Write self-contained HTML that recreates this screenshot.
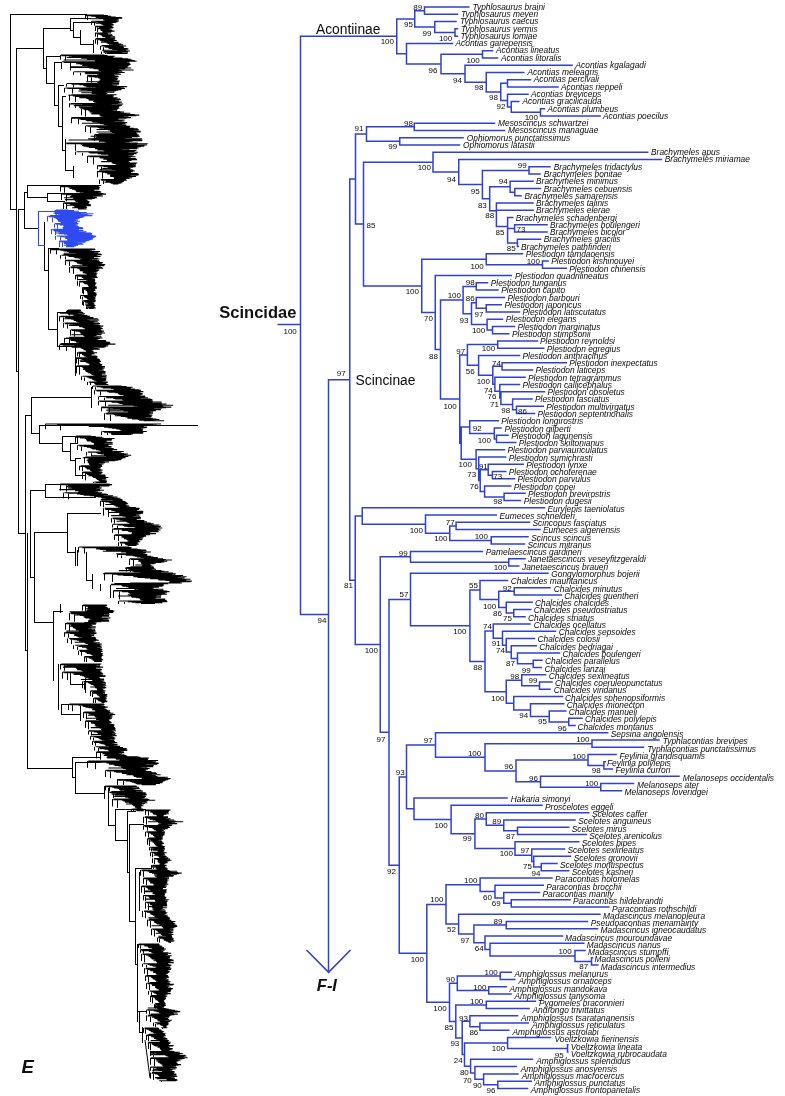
<!DOCTYPE html>
<html><head><meta charset="utf-8"><title>Scincidae phylogeny</title>
<style>
html,body{margin:0;padding:0;background:#fff}
svg{display:block}
text{font-family:"Liberation Sans",Arial,Helvetica,sans-serif;fill:#0a0a0a}
.sp text{font-size:8.4px;font-style:italic}
.su text{font-size:8.0px;text-anchor:end}
.big{font-size:13.8px}
.fam{font-size:16.5px;font-weight:bold;fill:#111}
.fi{font-size:16.5px;font-weight:bold;font-style:italic;fill:#111}
.e{font-size:18.6px;font-weight:bold;font-style:italic;fill:#111}
</style></head><body>
<svg width="785" height="1096" viewBox="0 0 785 1096">
<rect width="785" height="1096" fill="#fff"/>
<g fill="none" stroke="#000" stroke-width="1.05">
<path d="M85.8 15H103.8M85.7 15.6H107.9M91.2 16.2H111.1M95.3 16.9H115.7M96.1 17.5H121.6M98.5 18.1H122.3M90.3 18.7H118.3M103.1 19.3H117.2M103.4 20H118.8M104.9 20.6H116.7M91.9 21.2H118.6M96.3 21.8H117.6M98 22.4H116.2M95.7 23.1H111.6M100.3 23.7H112.6M101.4 24.3H113.5M102.7 24.9H113.8M104.3 25.5H111.1M95.5 26.2H112.6M95.3 26.8H112.4M98.7 27.4H113.5M99.4 28H113.2M97.6 28.6H110.7M100.3 29.3H109.3M100.4 29.9H112.1M100.9 30.5H112.3M102.6 31.1H114.5M102.3 31.7H111.6M102.8 32.4H107.4M95 33H111.1M96.6 33.6H107.9M98.4 34.2H107.5M100.3 34.8H112.2M101.6 35.5H112.6M102.1 36.1H110.3M102.8 36.7H115.1M105.5 37.3H110.4M105.2 37.9H115.2M96 38.6H114.6M96.4 39.2H115.1M98.4 39.8H113.3M100.2 40.4H116.7M101.1 41H113.3M104.3 41.7H114.4M100.8 42.3H118.2M106.5 42.9H118.8M107.7 43.5H118.6M108.9 44.1H121.3M112.5 44.8H123.2M102 45.4H119.6M100.7 46H126.2M104.4 46.6H122.9M105.2 47.2H123.8M108.2 47.9H124M109.2 48.5H127.5M112.3 49.1H128.4M113 49.7H124.3M102 50.3H126.2M117.4 51H129.9M103.4 51.6H127.6M103.5 52.2H128M107.5 52.8H121.8M106.5 53.4H127.6M60.8 55H104.5M61.5 55.6H107.5M68.9 56.2H114.7M71.8 56.9H113.4M66.7 57.5H108M81.2 58.1H122.5M86.9 58.7H128.1M87 59.3H130.7M63.6 60H132.2M94.9 60.6H134.8M95.7 61.2H136.6M62 61.8H129.4M63.7 62.4H126.9M77.8 63.1H129.7M75.9 63.7H119.6M80.2 64.3H130.9M82.9 64.9H129.6M82.2 65.5H128.6M87.6 66.2H127M70.6 66.8H128.2M69.9 67.4H126.7M89.3 68H131.3M93.5 68.6H125.3M97.6 69.3H119.2M99 69.9H133.6M98.6 70.5H121.6M100.9 71.1H118.4M74.1 71.7H122.4M84.8 72.4H124.6M86.5 73H119.4M85.2 73.6H116.8M97 74.2H121.1M98.6 74.8H114.1M87.2 75.5H114.8M87.2 76.1H117.9M89.4 76.7H118.9M94.7 77.3H115.4M98.1 77.9H117.3M99.8 78.6H117.8M99.6 79.2H117.6M101 79.8H117.1M100.1 80.4H115.3M98.7 81H120M86.2 81.7H118.9M97 82.3H112.7M97.7 82.9H119.3M67 83.5H119.1M71.5 84.1H111.8M79.5 84.8H118.9M83.4 85.4H113.2M84.3 86H116.9M86.4 86.6H127.1M95.6 87.2H123.8M65.2 87.9H120.6M67.5 88.5H124.9M79.1 89.1H121.6M80.8 89.7H121.2M87.2 90.3H118.3M78.5 91H115.6M91.9 91.6H107.6M92.6 92.2H114.3M81.3 92.8H105.8M91.6 93.4H107.3M96.5 94.1H106.1M71.4 94.7H116.6M68.3 95.3H112.5M72.9 95.9H114M75.3 96.5H112.8M79.3 97.2H112.9M79.2 97.8H117.6M86.2 98.4H116.3M87.8 99H120M88.8 99.6H120.8M88.9 100.3H115.2M94.1 100.9H119.1M93 101.5H119.1M94.3 102.1H121.8M96.5 102.7H119.7M70.8 103.4H117.9M69.4 104H123.2M82.4 104.6H111.7M74.6 105.2H122M73.8 105.8H120.6M92.3 106.5H119.3M78.9 107.1H118.8M95.7 107.7H117.8M80.3 108.3H119.3M82.7 108.9H117.8M84.4 109.6H117.1M88.5 110.2H117.1M88.4 110.8H112.7M90.1 111.4H120.4M89.7 112H124.1M92.6 112.7H121.5M90.8 113.3H130.4M91.7 113.9H126.3M99.5 114.5H134.6M99.5 115.1H139.3M100.6 115.8H136.2M102.9 116.4H123.6M99.9 117H128.5M71.5 117.6H131M71.6 118.2H126.5M79.3 118.9H118.5M80.8 119.5H116.4M85.5 120.1H124.6M86.9 120.7H122.3M91.6 121.3H114.8M92.7 122H124.3M97.5 122.6H127.2M81.9 123.2H125.5M100.1 123.8H124.7M103.7 124.4H121.9M106.6 125.1H126.3M86 125.7H125.5M87.5 126.3H130.2M91.2 126.9H130.1M97.6 127.5H129M99.4 128.2H133.6M104 128.8H137.7M96.5 129.4H138.6M108.2 130H138.7M110.1 130.6H133.8M110.3 131.3H140.7M96.5 131.9H140.7M111.8 132.5H134.3M114.9 133.1H136.3M98.4 133.7H137.4M95 134.4H137.2M95.2 135H138.9M95.6 135.6H138.1M90.6 136.2H139.7M96.8 136.8H137.8M96.2 137.5H132.1M93.7 138.1H125.4M88.1 138.7H142.1M91.5 139.3H140.5M68.6 139.9H142.4M99.5 140.6H142.1M100 141.2H132.6M104.5 141.8H129.5M106.3 142.4H125.4M66.3 143H137.7M66.2 143.7H147.7M80.7 144.3H137M82.8 144.9H146.9M82.1 145.5H139.3M83.5 146.1H144.3M86.5 146.8H140.9M88.9 147.4H137.1M94.8 148H138.6M95 148.6H137.1M97.9 149.2H129.4M97.3 149.9H122.4M103.4 150.5H136.4M104.5 151.1H134.1M76.5 151.7H135.1M88.4 152.3H138.1M89.7 153H128.4M97.8 153.6H136.6M101 154.2H130.4M108.3 154.8H134M108.3 155.4H128.2M87.6 156.1H132.7M89.4 156.7H135.5M99.1 157.3H130.9M100 157.9H128.5M103.7 158.5H135.8M103.3 159.2H137M106.6 159.8H137M107 160.4H131.5M110.5 161H129M101.1 161.6H128.2M112.1 162.3H129.9M111.7 162.9H137.3M113.3 163.5H135.9M115.5 164.1H136M116.5 164.7H134.1M98.4 165.4H135.5M97.2 166H136M103.4 166.6H135.4M107.2 167.2H133.1M108.2 167.8H129.4M102.4 168.5H130.6M112 169.1H129.9M99.7 169.7H132.4M115.6 170.3H133.3M98.9 170.9H134.7M97.9 171.6H132.7M102.9 172.2H129.4M105.2 172.8H131.1M107.5 173.4H137.6M107.2 174H138.6M111.2 174.7H138.9M109.9 175.3H137.7M110.1 175.9H130.6M110.4 176.5H135.9M113.4 177.1H128.3M114.4 177.8H132.2M113.9 178.4H129.5M115.2 179H125.1M100.7 179.6H126M101.4 180.2H126.9M105.9 180.9H123.9M106.8 181.5H123.7M104.6 182.1H121M110 182.7H122.5M111 183.3H120.6M112.7 184H118.4M61.5 186H97.3M60.8 186.6H98.9M68.3 187.2H99.7M70.8 187.9H99.6M69.4 188.5H99.1M72 189.1H93.9M74.2 189.7H99.2M75.4 190.3H94.3M75.8 191H94.4M76.3 191.6H100.6M79.8 192.2H101.2M83.4 192.8H98.5M61.3 193.4H103.5M62.1 194.1H106.1M66.4 194.7H102.1M71.2 195.3H99.6M71.5 195.9H103M69.9 196.5H93.2M73.4 197.2H96.4M64.1 197.8H97M73.1 198.4H94.8M73.5 199H92.2M64.9 199.6H85.7M74.5 200.3H87.3M75.1 200.9H88.1M75.8 201.5H89.4M78.1 202.1H89.2M64.1 202.7H89.2M64.4 203.4H88.6M69.7 204H88.4M70.4 204.6H90.7M66.9 205.2H90.6M72.9 205.8H90.9M74.2 206.5H85.6M74.5 207.1H86.5M72.1 207.7H87.1M77.8 208.3H84M78 208.9H86.4M50.5 249H95M51.1 249.6H95.3M60.2 250.2H90M63.6 250.9H92.1M67 251.5H100M68.8 252.1H94.1M73.9 252.7H98.5M63.7 253.3H98M76.2 254H100.8M63.5 254.6H101.7M61.5 255.2H97.8M67.5 255.8H96.6M68.7 256.4H100.5M73.6 257.1H94M74.8 257.7H93.2M78.5 258.3H97.6M81.5 258.9H99.4M80.3 259.5H91.8M66 260.2H96.7M66.1 260.8H99.1M74.3 261.4H99.7M75.8 262H94.1M77 262.6H102.7M77.3 263.3H100.4M79.5 263.9H102.2M82.3 264.5H105.2M82.7 265.1H104M72 265.7H104.5M87.3 266.4H98M70.3 267H100.8M70.8 267.6H102.2M77.3 268.2H103.2M78.9 268.8H98.6M79.6 269.5H96.3M80.3 270.1H99.3M79.8 270.7H97.9M82.7 271.3H97.6M83.4 271.9H96.4M82.8 272.6H94.1M84.7 273.2H97.5M86.4 273.8H95.9M86.9 274.4H96.7M76.2 275H96.3M75.4 275.7H95.6M78.4 276.3H97M81.6 276.9H95.7M81.7 277.5H97.6M83.6 278.1H91.7M83.2 278.8H94.8M77.3 279.4H95M86.1 280H95.3M87.6 280.6H95.1M79 281.2H95M79.6 281.9H95.1M83.2 282.5H93.6M83.8 283.1H96.4M84.8 283.7H95.9M86.7 284.3H95.4M87.9 285H95.3M88.1 285.6H95.1M88.8 286.2H94.6M88.7 286.8H96.7M83.2 287.4H96.1M82.5 288.1H97M84.1 288.7H94.6M84 289.3H95.2M85.8 289.9H94.2M85.6 290.5H95.5M86.9 291.2H94M86.9 291.8H93.2M87.4 292.4H95.2M88.1 293H96.3M87.5 293.6H95.6M87.8 294.3H96.8M87.7 294.9H96.4M80.6 295.5H96.2M83.7 296.1H93.8M84 296.7H96M84.8 297.4H94.8M86.8 298H95.2M86.7 298.6H95.4M87.7 299.2H95.3M88.6 299.8H94.5M83.3 300.5H95.7M83.4 301.1H95.1M85.2 301.7H95.6M86.9 302.3H94M85.1 302.9H92.3M88.1 303.6H94.2M88.8 304.2H94.5M85.2 304.8H94.5M86 305.4H95.5M90.7 306H94.5M86.2 306.7H94.7M86.8 307.3H94.6M88.4 307.9H95.8M89.1 308.5H93.6M68.1 310H80.6M67 310.6H81M66 311.2H79.4M66.2 311.9H82.1M66 312.5H83.3M59.8 313.1H78.1M67.4 313.7H85M70.3 314.3H84.2M73.3 315H82M74.2 315.6H87.3M60.4 316.2H90.1M60.1 316.8H89.3M65 317.4H93.4M67.6 318.1H93.2M64.4 318.7H97.8M71.2 319.3H87.4M73.5 319.9H99.2M73.9 320.5H89.4M75.9 321.2H97.7M77.3 321.8H94.7M79.2 322.4H92.7M64.5 323H98.9M64.9 323.6H100.1M73.2 324.3H93.9M69.4 324.9H98.8M68.9 325.5H100.5M78.9 326.1H103.3M79.7 326.7H100M82.6 327.4H100.7M83.6 328H102.1M85.1 328.6H102.8M88.7 329.2H95.7M70.7 329.8H100.9M71.7 330.5H101.4M75.6 331.1H104M79.4 331.7H101.3M80 332.3H102.4M80.4 332.9H105M80.9 333.6H98.4M81.5 334.2H101.8M71.4 334.8H101.1M83.3 335.4H96.6M84.2 336H93.8M84.6 336.7H101.4M69.2 337.3H97.6M66 337.9H102.5M65.1 338.5H99.8M69.8 339.1H96.3M70.8 339.8H98.3M70.6 340.4H105.9M74.2 341H97.9M76 341.6H106.3M76.3 342.2H109.8M78.6 342.9H110.2M61.2 343.5H109.8M60 344.1H115.4M59.9 344.7H108.5M62.9 345.3H106.4M74.2 346H108.1M75.1 346.6H105.7M71.7 347.2H104.6M80.4 347.8H93.8M81.6 348.4H98.2M83.4 349.1H99.8M83.5 349.7H93.5M85.3 350.3H92.4M86.1 350.9H92.4M86.3 351.5H93.6M78.3 352.2H93.4M78.4 352.8H97.2M78.5 353.4H94.1M82.7 354H94.6M82 354.6H91.7M83.4 355.3H91.6M84 355.9H96.5M85.8 356.5H97.4M87.3 357.1H97M76.4 357.7H97.4M76.7 358.4H97.1M81.2 359H98.9M82.3 359.6H99.8M79.7 360.2H98M83.6 360.8H100.4M80.2 361.5H101M85.6 362.1H99.4M87 362.7H99.5M88.2 363.3H100.5M89.5 363.9H99.9M89.5 364.6H102.2M89.2 365.2H101M76.8 365.8H101.7M76.3 366.4H105M81.9 367H102.4M82.7 367.7H104.8M83.8 368.3H104.3M83.2 368.9H102.4M82.9 369.5H100.1M85.3 370.1H103.7M85.1 370.8H99M86 371.4H105.6M86.9 372H103.5M88.2 372.6H105.4M90 373.2H101.9M91 373.9H105.7M91.7 374.5H101.5M94.5 375.1H101.9M92.8 375.7H106.8M82.4 376.3H105.7M86.5 377H106.4M88.5 377.6H101.4M89.4 378.2H106.4M92.2 378.8H105.8M92.3 379.4H106M93.7 380.1H106.3M95.5 380.7H105M97 381.3H102.8M88.7 381.9H107.9M89.7 382.5H107.7M94.1 383.2H106.5M94.5 383.8H106.2M95.4 384.4H108.3M92.9 386H121.7M96.9 386.6H126.5M100.7 387.2H132.6M102.7 387.9H130.8M110.8 388.5H128.8M113.7 389.1H134.8M116.3 389.7H139.3M95.4 390.3H140.9M96.6 391H140.8M107.1 391.6H143.4M108.9 392.2H139.6M115.2 392.8H140.4M117.9 393.4H142.7M118.7 394.1H142.5M120.1 394.7H140.8M123.3 395.3H139.5M123.8 395.9H145M99 396.5H145.3M107 397.2H144.4M105.8 397.8H147.9M113.3 398.4H140.9M115.3 399H150.6M122.3 399.6H152.3M123.4 400.3H152.7M98.7 400.9H151.3M100.1 401.5H152.8M111.5 402.1H161.7M117.4 402.7H152.1M119.4 403.4H161.7M122.4 404H166.5M122.8 404.6H161.7M108.1 405.2H173.2M133.5 405.8H162.6M137.2 406.5H163.4M101.4 407.1H171.3M102.2 407.7H166M113.2 408.3H161.8M107.6 408.9H154M120.3 409.6H160.8M106.2 410.2H152.6M123.4 410.8H155.9M128.2 411.4H150M107.6 412H153.2M127.9 412.7H150.7M105.4 413.3H153M106.3 413.9H149.6M113.7 414.5H146M117.1 415.1H152.4M114.9 415.8H151.2M120.7 416.4H151.6M125.5 417H150.7M127.7 417.6H145.5M127.4 418.2H152.8M131.9 418.9H156.3M137.7 419.5H159.4M139.2 420.1H154.7M143.8 420.7H164.2M45.4 424H161.1M57.2 424.6H153M81.7 425.2H156.6M93.2 425.9H143.7M88.6 426.5H140.1M104.1 427.1H147.1M108.4 427.7H146.3M112.1 428.3H141.2M116.3 429H143.2M119.5 429.6H142.6M120.4 430.2H142.5M121.9 430.8H142.8M102.3 431.4H146.8M103.8 432.1H143.3M109.1 432.7H137.9M111.3 433.3H143.2M111 433.9H132.8M111.8 434.5H131.1M76.2 436H91M76 436.6H95.8M75.7 437.2H102.1M80.1 437.9H103.7M84.6 438.5H114.4M86 439.1H112.1M86.6 439.7H111.9M86.6 440.3H111.5M86.9 441H106.7M91 441.6H106.4M91.8 442.2H111.8M93.5 442.8H112.8M94.1 443.4H104.4M93.9 444.1H112.6M96 444.7H107.7M78 445.3H108.7M79.5 445.9H108.1M83.7 446.5H111.6M86.9 447.2H105M89.6 447.8H111.4M91.4 448.4H113.7M92.4 449H110.6M96 449.6H117.2M98.6 450.3H112M100.5 450.9H112.8M106.1 451.5H123.7M87.8 452.1H121.3M96.1 452.7H119.1M97.5 453.4H124.2M100.6 454H127.9M104 454.6H126M107.1 455.2H131.2M91.5 455.8H124.1M106.2 456.5H128.4M85.2 457.1H125.2M82.7 457.7H125.5M88.9 458.3H122.8M87.6 458.9H121.9M88.7 459.6H121M86.6 460.2H118.1M87.7 460.8H115.2M88 461.4H103.4M87.5 462H109M88 462.7H105M89.2 463.3H98.8M89.5 463.9H103.6M90 464.5H100.1M90.4 465.1H101.6M80.5 465.8H102M80.2 466.4H102.2M84.7 467H98.4M85.3 467.6H100.7M86.7 468.2H98.3M86.7 468.9H100.4M89.5 469.5H100.6M89.9 470.1H102.5M91.3 470.7H100.4M91.7 471.3H99M83.5 472H102.2M82.9 472.6H102.5M85.4 473.2H101.4M86.1 473.8H101.4M87.2 474.4H99.5M89.3 475.1H105.3M88.3 475.7H105.3M91.9 476.3H105.9M92.7 476.9H104.7M93.3 477.5H108.4M95.7 478.2H106.1M95.8 478.8H105.6M97.1 479.4H101.9M98.3 480H106.6M98.8 480.6H104.9M100.2 481.3H107.1M94.3 481.9H106.5M95.7 482.5H106.5M60.3 484H109.5M60.2 484.6H112.1M68.1 485.2H110.4M67.3 485.9H109.1M66.6 486.5H100M71.2 487.1H99.1M67.6 487.7H101.6M68.4 488.3H101.2M72.1 489H96.5M59.2 489.6H100.1M76.8 490.2H103.9M75 490.8H100M78.8 491.4H95.4M78.1 492.1H98.2M64.4 492.7H102.1M67.6 493.3H101M76.9 493.9H106.4M80.3 494.5H108M83.6 495.2H103.7M89.7 495.8H113.1M94.1 496.4H111.5M97.6 497H117.5M101.1 497.6H114.3M102.1 498.3H120.5M105.7 498.9H118.5M100.9 499.5H122.4M113.1 500.1H122M101.2 500.7H123.2M101.4 501.4H125.4M105.5 502H121.6M109.1 502.6H126.7M110.3 503.2H127.3M111.5 503.8H128.2M105.3 504.5H125.7M113.7 505.1H126.4M116 505.7H128.9M115.6 506.3H127.1M117.8 506.9H130.3M120.1 507.6H135.9M104.7 508.2H139.7M105 508.8H139M105.3 509.4H138.9M112.4 510H137.2M111.1 510.7H136.8M114.5 511.3H143.3M115.9 511.9H143.2M108.3 512.5H140.5M119.1 513.1H143.1M120.1 513.8H140.8M119.1 514.4H136.2M122 515H139.3M111.1 515.6H136.3M122.5 516.2H140.2M125.6 516.9H133.2M126.4 517.5H140.9M112.5 518.1H138.8M112.8 518.7H140.9M116.1 519.3H136.8M119.5 520H136.6M122.6 520.6H144.3M116.5 521.2H142.3M125.9 521.8H147M127.4 522.4H144.5M129.3 523.1H150.7M131.9 523.7H153.7M113 524.3H152.1M118 524.9H159.3M122.8 525.5H154.4M124.1 526.2H161M127.6 526.8H160M135.4 527.4H156.7M134.5 528H162.3M113.7 528.6H158.3M113.1 529.3H159M121.7 529.9H160.6M122.2 530.5H149.4M127.8 531.1H157.8M129.4 531.7H158.8M132 532.4H150.3M132.2 533H148.2M131.5 533.6H156.1M133.6 534.2H147.1M114.9 534.8H150M115.3 535.5H146.1M122.3 536.1H146.1M121.4 536.7H144M121.7 537.3H141.5M123.7 537.9H143.1M123.9 538.6H139.9M126.1 539.2H142.5M127.1 539.8H141.8M128.6 540.4H139.2M127.5 541H139M128.8 541.7H140.3M119.7 542.3H137.7M119.9 542.9H137.6M124.5 543.5H136.4M125.2 544.1H138.7M126.1 544.8H136.4M127.6 545.4H136.6M79 547H129.3M82.2 547.6H131.5M95.9 548.2H130.6M96.3 548.9H137.6M100.2 549.5H140.7M106.1 550.1H145.8M111.4 550.7H146.6M102.8 551.3H142.8M121 552H150.9M126 552.6H146M129 553.2H144.9M116.2 553.8H143M117.3 554.4H147.4M125.7 555.1H147.1M132.5 555.7H144.4M134.7 556.3H151.1M136.9 556.9H153.4M140.6 557.5H157.8M144 558.2H157.6M130 558.8H163.1M130.9 559.4H165.6M138.2 560H171.9M139.3 560.6H164M138.3 561.3H167.2M140.7 561.9H164.2M140.6 562.5H161.3M141 563.1H155.8M141.4 563.7H154.4M142.8 564.4H150.2M135.4 565H150.5M142.6 565.6H151.5M141.9 566.2H153.5M130.6 566.8H150.9M127.1 567.5H153.9M125.1 568.1H154M130 568.7H154.7M128.2 569.3H156M131 569.9H151.4M118.8 570.6H161.5M132.3 571.2H164.2M133.7 571.8H168.6M140.2 572.4H161M104.5 573H173.1M102.9 573.7H175.9M112.8 574.3H175.1M117.6 574.9H172M123.4 575.5H183.1M133.2 576.1H181M133.6 576.8H186.6M137.5 577.4H177.6M144.7 578H184.6M150 578.6H181.8M157.8 579.2H190.4M158.5 579.9H186.3M165.4 580.5H184M169.6 581.1H191.8M171.2 581.7H190.5M168.9 582.3H180.2M130.2 583H181.8M114.4 583.6H168.2M111 584.2H163.8M110.8 584.8H163.7M121.5 585.4H163.7M122.4 586.1H162.6M125.9 586.7H157.1M128.2 587.3H159M130.2 587.9H153.7M116 588.5H152.6M134.2 589.2H163.4M137.7 589.8H157.8M113.7 590.4H163.6M114.1 591H167.2M121.9 591.6H169.6M128 592.3H167M128.8 592.9H164.8M130 593.5H160.1M130.8 594.1H166.9M127.8 594.7H161.8M129.3 595.4H156.8M118.1 596H161.1M131 596.6H155.7M131.9 597.2H161M136.3 597.8H156.2M139.4 598.5H154.8M140.1 599.1H165.1M140.4 599.7H162.8M142.8 600.3H166.3M119.2 600.9H167M127.7 601.6H167.3M131.7 602.2H157.5M135.3 602.8H162.4M141 603.4H155M82.9 605H106.8M82.1 605.6H107.1M85.9 606.2H104.7M88 606.9H106.1M87.7 607.5H107.3M87.7 608.1H107.9M85.8 608.7H110.1M88.8 609.3H110.2M87.2 610H110.1M86.5 610.6H113.3M88.8 611.2H114.3M69.6 611.8H113M71 612.4H113.2M70.4 613.1H109M71.3 613.7H108.1M77 614.3H109.7M74.2 614.9H104.1M79.9 615.5H109.1M84.5 616.2H109.2M83.4 616.8H101.8M84.5 617.4H101.3M85.5 618H110.5M89.5 618.6H107.5M89.3 619.3H108.6M91.4 619.9H103.3M88.4 620.5H109.1M88.1 621.1H109.1M88.3 621.7H101.2M84.5 622.4H94.4M66.6 623H96.6M64.9 623.6H96M69.8 624.2H95.7M71.3 624.8H91.3M71.2 625.5H92.4M70 626.1H90.2M72.7 626.7H95.7M72.7 627.3H91.5M73.4 627.9H95.6M75.2 628.6H88.1M75.8 629.2H91.6M76 629.8H95M79.1 630.4H95.4M66.4 631H93.1M78.9 631.7H95.6M65.5 632.3H94.2M64.5 632.9H96.7M69.8 633.5H96.2M73.8 634.1H94.4M74.9 634.8H90.2M74.2 635.4H94.1M76.2 636H91.7M77.5 636.6H91.2M79 637.2H95.1M82.2 637.9H96.1M69.2 638.5H95.8M70 639.1H95.8M73.5 639.7H97.2M76.9 640.3H98.8M78.9 641H95.8M80.6 641.6H93.7M74.7 642.2H93.4M84.4 642.8H99.6M85.5 643.4H96.5M87.9 644.1H101.6M89.3 644.7H99.9M75.2 645.3H99.8M80 645.9H101.6M78.4 646.5H101.4M81.9 647.2H97.1M85.7 647.8H101.9M86.7 648.4H100.1M86.8 649H101.3M88.4 649.6H102.4M79 650.3H100.5M80.1 650.9H101.8M80.1 651.5H102.6M85.1 652.1H101.2M86.5 652.7H101.1M86.8 653.4H102.8M90 654H101.6M91.2 654.6H102.4M92.4 655.2H103.2M92.9 655.8H101.9M84.7 656.5H101.8M85.2 657.1H101.2M88.6 657.7H99.6M89.6 658.3H101.9M91.3 658.9H100.9M92.7 659.6H102.8M92.5 660.2H102.2M94.5 660.8H100.9M94.2 661.4H102M61.2 664H101.4M60.9 664.6H100.1M66.8 665.2H95.8M64.8 665.9H100M72.1 666.5H94.3M62.9 667.1H103.1M75.6 667.7H94.9M76.1 668.3H95.9M76.9 669H100.8M77.3 669.6H101.9M80.7 670.2H100.5M82.3 670.8H100.3M82.9 671.4H100.2M62.9 672.1H101.6M64.2 672.7H99.7M72.6 673.3H102.8M74.8 673.9H103.2M73.7 674.5H100.8M80 675.2H102.7M82.1 675.8H105.6M83.9 676.4H105.3M84.6 677H99.5M85.7 677.6H98.8M89.1 678.3H100.2M88.3 678.9H104.1M80.9 679.5H103.4M92.6 680.1H104.2M92.1 680.7H101.6M83.5 681.4H103.2M83.7 682H104.6M88 682.6H105.5M89 683.2H105.9M90.1 683.8H102.4M91.1 684.5H105.6M93.2 685.1H103.6M94.1 685.7H106.2M95 686.3H102.8M90.2 686.9H105.1M95 687.6H106.3M96.6 688.2H104.8M96.8 688.8H102.1M97.1 689.4H102.9M97.2 690H103.7M90.8 690.7H105.6M91.1 691.3H104.9M93.1 691.9H102.7M94 692.5H104.6M92 693.1H105.1M96 693.8H102.9M97.1 694.4H107.3M97.1 695H106.2M98.4 695.6H106.7M99.2 696.2H107.4M99.8 696.9H104.9M100.5 697.5H105.7M93.9 698.1H106.6M94.6 698.7H106.6M96.4 699.3H105.4M97.7 700H106.1M98.2 700.6H106.3M99.5 701.2H107.5M101.3 701.8H106.8M101.6 702.4H104.6M69.4 704H104M70.4 704.6H104.5M78.4 705.2H103.6M82.6 705.9H100.9M83.4 706.5H104.8M85.5 707.1H107.7M88.7 707.7H104.6M91.3 708.3H105.5M93.1 709H104M92.2 709.6H106.7M94.7 710.2H107.6M94.9 710.8H110.1M95.6 711.4H108.6M84.2 712.1H110.1M83.5 712.7H110.7M87.6 713.3H113.4M89 713.9H108.9M91.2 714.5H115.2M88 715.2H111.2M94.4 715.8H112.6M94.7 716.4H110.8M95.6 717H112.4M96.6 717.6H110M87 718.3H112M96.4 718.9H110.7M96 719.5H107.3M99.1 720.1H108.9M85.9 720.7H109.5M86.3 721.4H110.6M90.9 722H110.1M90.8 722.6H111.7M91.4 723.2H110.5M94.1 723.8H108.8M95.1 724.5H113.5M95.8 725.1H114.4M94.7 725.7H111.4M95.9 726.3H113.9M98 726.9H114M90.8 727.6H114.8M99.7 728.2H115.1M101.9 728.8H115.6M101 729.4H115.1M101.8 730H111.5M88.9 730.7H116M89.3 731.3H113.7M93.7 731.9H113.5M96.9 732.5H114.8M98.3 733.1H112.4M97.6 733.8H116.2M90.9 734.4H115M100.9 735H113.2M101.4 735.6H116.6M90.6 736.2H113.3M94.2 736.9H111.6M96.5 737.5H114.6M98.6 738.1H114.2M99.4 738.7H115.3M100.3 739.3H114.4M101.8 740H109.8M104.4 740.6H114M92.9 741.2H115M95.3 741.8H114.9M94.1 742.4H117.1M99.4 743.1H112.2M101.5 743.7H114.6M103.6 744.3H117.7M105.1 744.9H117.2M105.7 745.5H113.9M109.1 746.2H119.9M95.6 746.8H120M98.6 747.4H123M102.5 748H123.1M99.5 748.6H126.7M104.5 749.3H125.8M107.7 749.9H127.6M108.8 750.5H126.8M109.2 751.1H121.3M96.9 751.7H123.9M97.2 752.4H124.1M102.4 753H121.8M102.5 753.6H118.7M104.4 754.2H124.4M105.5 754.8H121.3M103.8 755.5H125.9M107.3 756.1H127.2M109 756.7H138.2M106.5 757.3H140.4M107.2 757.9H148.9M115.5 758.6H147.6M116.1 759.2H147.8M120 759.8H148.1M119.3 760.4H158.1M88.2 761H152.6M88.1 761.7H155.9M100.1 762.3H155.5M106.4 762.9H158.3M110.7 763.5H158.8M108.9 764.1H157.3M113.6 764.8H146M114.7 765.4H153.8M118.5 766H142.7M121 766.6H153.2M121.5 767.2H147.3M108.4 767.9H141.1M122.8 768.5H149.6M125.7 769.1H147.9M128.3 769.7H143.3M105.9 770.3H145.6M106.9 771H146.5M114.1 771.6H151.2M116.2 772.2H152M121.8 772.8H156M121.9 773.4H156.9M127.6 774.1H152.2M126.3 774.7H160.7M132.9 775.3H155.7M133.7 775.9H155.6M133.8 776.5H157.5M136.2 777.2H167.9M141.6 777.8H165M141.8 778.4H170.7M145.5 779H169.7M117.2 779.6H167.9M118.4 780.3H166.2M125.7 780.9H164.6M129.7 781.5H158.9M131.8 782.1H162.8M134 782.7H162.3M135.6 783.4H159.9M136.7 784H155M141.7 784.6H155.9M105.2 786H136.5M106.3 786.6H136.8M112.2 787.2H139M114.1 787.9H132.5M117.3 788.5H139.6M118.9 789.1H133.3M119.4 789.7H135.7M120.1 790.3H141.1M124.1 791H142.9M111.4 791.6H136.2M109.2 792.2H142.6M110 792.8H145.7M116.2 793.4H145.4M111.7 794.1H146.5M119.5 794.7H146.8M114.7 795.3H145.7M124.6 795.9H142.8M114.2 796.5H145.9M125.2 797.2H144.9M128.1 797.8H144.5M129.7 798.4H142.2M113.5 799H147.8M113.3 799.6H149.4M121.8 800.3H155.2M123.3 800.9H147.7M124.9 801.5H146.5M125 802.1H142M129 802.7H147.3M130.4 803.4H145.1M126 804H143.8M132 804.6H141.5M133.2 805.2H142.1M133.1 805.8H143.4M134.9 806.5H140.8M134.9 807.1H141.2M135.6 807.7H141.5M137.3 808.3H140.8M132.2 808.9H143.1M133.1 809.6H142.9M135.5 810.2H143M137 810.8H144.3M146.1 810H170.6M146 810.6H169.2M151.1 811.2H168.9M150 811.9H168.6M151.7 812.5H168.3M152.7 813.1H166.1M152.9 813.7H168.8M153.6 814.3H166.4M155.8 815H164.1M157.1 815.6H163.2M157 816.2H162.1M144.8 816.8H168M144.6 817.4H168.1M147.4 818.1H166.3M150.1 818.7H170.5M149.6 819.3H168.7M152.6 819.9H174.3M155.3 820.5H169.2M156.4 821.2H176.5M148.1 821.8H183.2M158.2 822.4H171.6M159.1 823H175M161 823.6H177.2M157.8 824.3H168.1M159.2 824.9H172.2M143.9 825.5H171.7M144.4 826.1H169.4M145.1 826.7H168.7M149 827.4H169.8M152.1 828H167.1M152.8 828.6H167.7M154.5 829.2H165M153.8 829.8H162.6M155.7 830.5H163.7M156.8 831.1H161.9M146.3 831.7H164.8M146.5 832.3H164.8M148.5 832.9H164.8M150.5 833.6H164.4M151.2 834.2H164.1M153 834.8H164.6M153 835.4H163.4M154.3 836H163.1M154.3 836.7H161.3M155.5 837.3H162.9M149.1 837.9H161.5M147.9 838.5H162.5M148.3 839.1H162.6M150.8 839.8H161.1M151.2 840.4H158.4M148.7 841H161.8M152.5 841.6H162.2M152.5 842.2H162.5M154.1 842.9H163.6M153.9 843.5H164M154.6 844.1H161.8M155 844.7H161.1M155.7 845.3H162.9M156.6 846H161.6M157.5 846.6H164.9M149.8 847.2H164.3M151.9 847.8H164.1M153.7 848.4H164.9M150.5 849.1H162.5M155.4 849.7H164.8M152.5 850.3H164.1M157.5 850.9H164.2M157.8 851.5H162.4M151.3 852.2H164.1M151.6 852.8H166.7M153.8 853.4H164.5M154.4 854H162.9M155.6 854.6H164.8M153.8 855.3H163.2M157.5 855.9H165.7M158.7 856.5H166.6M159 857.1H164.9M160.6 857.7H168.2M153.9 858.4H168.2M154.1 859H170M156.9 859.6H166.4M157.9 860.2H171.4M158.1 860.8H169.7M157.6 861.5H166.7M158 862.1H167.7M158.8 862.7H167.7M159.8 863.3H165.7M159.6 863.9H164.7M159.5 864.6H164M152.7 865.2H166.5M151.7 865.8H166.7M154.7 866.4H165M151.9 867H165.1M155.8 867.7H166.4M155.6 868.3H166.9M156.7 868.9H168M141.3 870H167M141.6 870.6H169.5M147.6 871.2H177.2M149.7 871.9H171.4M149.2 872.5H177.9M152.1 873.1H181.7M154.2 873.7H179.1M156.5 874.3H176.9M154.1 875H171M156.9 875.6H173.8M154.9 876.2H173.1M156.6 876.8H168.9M156.7 877.4H165.3M143.6 878.1H169M144.2 878.7H166.7M147.9 879.3H167.3M147.3 879.9H168.7M149.3 880.5H167.2M149 881.2H167.5M150.6 881.8H167.2M150.1 882.4H167.2M150.2 883H167.3M152.8 883.6H165.8M153.6 884.3H168.3M153.8 884.9H165.5M154.5 885.5H165.6M141.7 886.1H166.8M142 886.7H164.6M146.3 887.4H166M147.5 888H162.4M147.6 888.6H163M148.1 889.2H161.8M149.8 889.8H166.8M151 890.5H166.1M144.1 891.1H166.4M145.1 891.7H166M153.3 892.3H166.6M152.5 892.9H165.5M152.5 893.6H164.7M154.6 894.2H163.7M155.2 894.8H165.1M143.4 895.4H164M144.9 896H164.7M148.4 896.7H165M149 897.3H166.4M149.8 897.9H166.2M151.7 898.5H163M145.3 899.1H165.5M154.6 899.8H168.7M155 900.4H164.8M155 901H167.5M156 901.6H167.3M146 902.2H166.7M147.1 902.9H166.6M150 903.5H162.5M150.5 904.1H167M149.9 904.7H166.3M152.2 905.3H167.2M152.1 906H167.1M147.7 906.6H163M153 907.2H162.9M152.2 907.8H166.8M153.4 908.4H162.7M152.5 909.1H161.6M153.3 909.7H164.8M154.2 910.3H160.3M144.1 910.9H165.9M144.1 911.5H165.4M146.8 912.2H165.6M149.4 912.8H167.4M150.3 913.4H166.3M150.3 914H165.4M151.7 914.6H164.3M153.2 915.3H167.7M154.8 915.9H165.9M154.4 916.5H167.6M155.2 917.1H168.4M148.3 917.7H169.8M158 918.4H169.8M148.8 919H169.8M149.2 919.6H169.3M148.3 920.2H171.4M152.7 920.8H171.4M154.4 921.5H175.4M154.1 922.1H173.2M155.3 922.7H169.3M156 923.3H174.6M156.9 923.9H175.4M160 924.6H173.7M159.4 925.2H176.7M151.6 925.8H176.9M161.8 926.4H177.3M162.6 927H175.5M162.8 927.7H174.2M163.7 928.3H170.3M151.9 928.9H173.2M153 929.5H172.9M155.8 930.1H173.5M157.5 930.8H170.3M157.6 931.4H171.3M158.1 932H173.4M159.2 932.6H172.7M155.8 933.2H171.7M160.5 933.9H168.7M161 934.5H173.5M162.2 935.1H171.7M163.8 935.7H168.3M158.3 936.3H172M165.9 937H172.2M158.3 937.6H172.4M159.4 938.2H172.7M162.3 938.8H173.8M163.6 939.4H173.3M163.8 940.1H171.4M165.7 940.7H174.5M166.3 941.3H173.7M168 941.9H170.9M169.2 942.5H171M138.7 944H159.1M139.1 944.6H159.4M144.3 945.2H159.7M144.3 945.9H161.7M147.5 946.5H158.2M148.1 947.1H162.5M148.5 947.7H164M152.3 948.3H164M151.6 949H165.9M140.8 949.6H163.6M144.4 950.2H164.6M141.5 950.8H161.5M148.9 951.4H163.3M151.1 952.1H162.6M152.2 952.7H168.2M153.4 953.3H171.2M142.3 953.9H167.1M142.8 954.5H168M146.3 955.2H166.2M149.2 955.8H171.6M148.5 956.4H169.9M150.2 957H166.9M150.3 957.6H169.9M151.1 958.3H169.8M151.9 958.9H168.3M154.3 959.5H171.7M155.6 960.1H173.5M153.5 960.7H173.7M156.2 961.4H169.6M156.6 962H170.8M157.1 962.6H173.7M157.5 963.2H168.2M143.3 963.8H168.3M147.6 964.5H169.3M149.6 965.1H171.4M152.2 965.7H168.6M153.3 966.3H170.3M155.5 966.9H166.1M156.6 967.6H170.2M145.7 968.2H171.4M145.4 968.8H168.8M147.6 969.4H171M149.6 970H167.8M150.4 970.7H168.3M153.5 971.3H169.7M153.1 971.9H169.5M153.1 972.5H168.7M156 973.1H168M155.5 973.8H166.4M156.6 974.4H166.5M157.5 975H166.5M146.2 975.6H168.1M145.3 976.2H167.9M150.8 976.9H169.2M151.5 977.5H168.5M152.5 978.1H166.7M152.5 978.7H165.3M153.6 979.3H168.6M155 980H165.4M156 980.6H168.5M156.1 981.2H164.1M157.8 981.8H170.5M149.7 982.4H167.4M147.2 983.1H169.3M148 983.7H170.1M151.7 984.3H174.1M151.9 984.9H172.8M152.1 985.5H166.8M155.3 986.2H169.4M155.1 986.8H167.6M155.1 987.4H168M156.3 988H171M156.6 988.6H172.9M158.6 989.3H171.6M158.8 989.9H171.1M160.1 990.5H170.9M149.8 991.1H170.7M151.8 991.7H170.2M153.3 992.4H167M153.9 993H168.1M155.5 993.6H170.8M156.8 994.2H167.7M157.2 994.8H165.5M150.8 995.5H165.4M150.9 996.1H167.2M151 996.7H165.7M153.3 997.3H165.9M154.6 997.9H164.4M154.8 998.6H166M155.4 999.2H165.1M155.6 999.8H164.8M157.3 1000.4H163.7M158.1 1001H163.9M158.1 1001.7H164.1M159.4 1002.3H165.1M159.3 1002.9H163.7M155.2 1003.5H165.5M154.9 1004.1H165.6M156.2 1004.8H164.7M157.2 1005.4H165.8M155.3 1006H164.6M154.8 1006.6H164.1M154.9 1007.2H162.1M147.8 1007.9H163.9M157.1 1008.5H166.1M158.4 1009.1H168.7M147.2 1009.7H171.8M147.5 1010.3H175.1M153.6 1011H177.7M156.5 1011.6H180.2M158.7 1012.2H177.2M159 1012.8H173.3M160.4 1013.4H173.8M150.6 1014.1H177.8M159.8 1014.7H174.5M148.2 1015.3H171.4M147.6 1015.9H169.8M152.8 1016.5H168.8M151.9 1017.2H169.2M154.5 1017.8H165.5M154.6 1018.4H168.2M156.7 1019H167.1M157.3 1019.6H169M157.4 1020.3H171.9M158.4 1020.9H165.4M160 1021.5H170.2M160.5 1022.1H167.8M154.7 1022.7H168.6M157.7 1023.4H167.8M156.6 1024H168.8M160 1024.6H168.1M161 1025.2H166.8M162.6 1025.8H166.7M163.1 1026.5H166.5M163.7 1027.1H166.1M161.6 1027.7H167.4M144.4 1028H158.3M144.7 1028.6H159M146.7 1029.2H159.3M148.6 1029.9H161.2M149.3 1030.5H159.9M150.9 1031.1H162.5M150.7 1031.7H164.1M152.8 1032.3H162.7M153.5 1033H162.9M156 1033.6H165.5M149 1034.2H161.7M147.4 1034.8H165M146.8 1035.4H165.7M151.3 1036.1H163.2M151.2 1036.7H164.3M153.4 1037.3H165.5M154 1037.9H163.3M154.1 1038.5H167.2M155.6 1039.2H164.7M157.6 1039.8H167.5M150.7 1040.4H168.9M159.5 1041H165.7M159.9 1041.6H168.2M148.4 1042.3H170.7M149.1 1042.9H169.1M152.7 1043.5H170.3M151.8 1044.1H169.1M153.1 1044.7H168.8M153.8 1045.4H173.7M155.4 1046H173.3M158.2 1046.6H168.2M157.5 1047.2H169.6M160.1 1047.8H169.7M159.8 1048.5H172.7M160.2 1049.1H170.6M161.1 1049.7H172.4M161 1050.3H169.9M162.1 1050.9H169.2M150.1 1051.6H174.4M150.7 1052.2H179.9M151.1 1052.8H178M156.5 1053.4H182.7M150.9 1054H179.1M151.2 1054.7H179.9M165.2 1055.3H185.4M166.4 1055.9H186.4M168.2 1056.5H184.5M168.5 1057.1H183.4M151.1 1057.8H187.6M150.9 1058.4H184.6M157.1 1059H182.4M155.6 1059.6H177.5M158.6 1060.2H180.4M156.5 1060.9H178.5M158.8 1061.5H172.2M157.9 1062.1H176.6M160 1062.7H173.3M159.6 1063.3H177.7M160.7 1064H177.2M162.6 1064.6H181M161.8 1065.2H178.6M163.1 1065.8H176M163.1 1066.4H172.4M150.4 1067.1H175.8M153.6 1067.7H177M156.9 1068.3H170.4M155.7 1068.9H175.6M152.9 1069.5H172.5M158.4 1070.2H172.3M152.2 1070.8H169.9M162.3 1071.4H174.1M162 1072H175M152 1072.6H173.8M151.5 1073.3H174M155 1073.9H176.1M157.5 1074.5H176.4M158.1 1075.1H172.8M158.8 1075.7H176.6M159.3 1076.4H177.2M161.2 1077H174.5M154.9 1077.6H171.5M162.9 1078.2H174.5M156.7 1078.8H174.9M166.6 1079.5H176.8M166.8 1080.1H177.5M159.5 1080.7H176.2"/>
<path stroke-width="1" d="M85.5 15V19.2M87.5 16.2V20.1M91.5 21.2V24.9M94.5 22.4V25.6M95.5 26.2V31M97.5 27.4V32M95.5 33V36.7M97.5 34.2V37.5M95.5 38.6V43.7M97.5 39.8V44.7M100.5 46V49.8M103.5 47.2V50.5M101.5 51.6V54M105.5 52.8V54M60.5 55V59.7M65.5 56.2V60.6M61.5 61.8V69M70.5 63V70.5M73.5 71.7V74.9M80.5 72.9V75.5M87.5 76.1V81.6M91.5 77.3V82.7M66.5 83.5V86.7M73.5 84.7V87.4M64.5 87.9V92.6M72.5 89.1V93.6M69.5 94.7V100.7M75.5 95.9V102M69.5 103.4V107.3M75.5 104.6V108.1M81.5 108.9V115.3M85.5 110.1V116.6M71.5 117.6V123.2M78.5 118.8V124.3M85.5 125.7V132M90.5 126.9V133.2M94.5 134.4V140.9M99.5 135.6V142.2M65.5 143V149.5M75.5 144.2V150.8M75.5 151.7V154.9M82.5 152.9V155.6M87.5 156.1V163M93.5 157.3V164.4M97.5 165.4V169.3M101.5 166.6V170.1M97.5 170.9V177.3M102.5 172.1V178.6M99.5 179.6V184M103.5 180.8V184M60.5 186V191.6M64.5 187.2V192.7M61.5 193.4V200M66.5 194.6V201.3M63.5 202.7V209M66.5 203.9V209M50.5 249V253.5M56.5 250.2V254.4M60.5 255.2V258.7M65.5 256.4V259.4M65.5 260.2V265.1M69.5 261.4V266M69.5 267V272.7M73.5 268.2V273.9M75.5 275V279.5M77.5 276.2V280.4M77.5 281.2V285.7M79.5 282.4V286.6M82.5 287.4V293.2M83.5 288.6V294.4M80.5 295.5V298.9M82.5 296.7V299.6M82.5 300.5V304.9M83.5 301.7V305.8M86.5 306.7V309M87.5 307.9V309M68.5 310V314.5M69.5 311.2V315.4M59.5 316.2V321.3M63.5 317.4V322.3M63.5 323V327.7M67.5 324.2V328.6M70.5 329.8V335.6M74.5 331V336.7M64.5 337.9V342.8M69.5 339.1V343.8M59.5 344.7V349.9M66.5 345.9V350.9M77.5 352.2V356.3M79.5 353.4V357.1M76.5 357.7V363.4M78.5 358.9V364.6M76.5 365.8V373.3M79.5 367V374.7M81.5 376.3V380.1M84.5 377.5V380.9M87.5 381.9V385M90.5 383.1V385M92.5 386V389M95.5 387.2V389.6M94.5 390.3V394.5M100.5 391.5V395.4M98.5 396.5V399.6M104.5 397.7V400.2M98.5 400.9V405.4M105.5 402.1V406.3M101.5 407.1V411.3M109.5 408.3V412.2M104.5 413.3V419.9M110.5 414.5V421M45.5 424V429.2M60.5 425.2V430.3M101.5 431.4V435M107.5 432.6V435M75.5 436V442.7M77.5 437.2V444M77.5 445.3V450.1M81.5 446.5V451.1M86.5 452.1V455.6M91.5 453.3V456.3M84.5 457.1V463.4M89.5 458.3V464.7M79.5 465.8V470.4M82.5 467V471.3M82.5 472V479M85.5 473.2V480.4M93.5 481.9V483M95.5 483.1V483M60.5 484V490.4M66.5 485.2V491.7M63.5 492.7V498.3M68.5 493.9V499.4M100.5 500.7V506.2M103.5 501.9V507.3M103.5 508.2V515.6M108.5 509.4V517.1M111.5 518.1V522.6M114.5 519.3V523.5M112.5 524.3V527.5M117.5 525.5V528.2M112.5 528.6V532.8M118.5 529.8V533.7M114.5 534.8V540M118.5 536V541M118.5 542.3V546M121.5 543.5V546M78.5 547V552.5M84.5 548.2V553.6M117.5 554.4V557.5M121.5 555.6V558.1M129.5 558.8V564.9M133.5 560V566.1M126.5 567.5V571.5M130.5 568.7V572.3M104.5 573V580.4M112.5 574.2V581.9M129.5 583V588.4M135.5 584.2V589.5M113.5 590.4V597.9M119.5 591.6V599.4M118.5 600.9V604M124.5 602.1V604M82.5 605V610.6M85.5 606.2V611.7M69.5 613.1V620.3M74.5 614.3V621.8M65.5 623V629.7M69.5 624.2V631M64.5 632.3V636.8M68.5 633.5V637.7M67.5 638.5V643.1M71.5 639.7V644.1M73.5 645.3V649.1M77.5 646.5V649.9M78.5 650.9V655M81.5 652.1V655.8M84.5 656.5V661.8M86.5 657.7V662M60.5 664V669.6M64.5 665.2V670.7M62.5 672.1V678.7M67.5 673.3V680.1M82.5 681.4V688.2M84.5 682.6V689.6M90.5 690.7V696.1M92.5 691.9V697.1M93.5 698.1V703M95.5 699.3V703M68.5 704V710M72.5 705.2V711.2M83.5 712.1V718.1M86.5 713.3V719.3M85.5 720.7V727.9M88.5 721.9V729.4M88.5 730.7V734.6M91.5 731.9V735.4M90.5 736.2V739.7M93.5 737.4V740.4M92.5 741.2V745M95.5 742.4V745.7M94.5 746.8V750.5M98.5 748V751.2M96.5 751.7V758.4M100.5 752.9V759.7M87.5 761V767.8M95.5 762.2V769.2M105.5 770.3V777M110.5 771.5V778.3M117.5 779.6V785M123.5 780.8V785M105.5 786V790.4M109.5 787.2V791.3M108.5 792.2V797.1M113.5 793.4V798M112.5 799V806.4M117.5 800.2V807.9M131.5 808.9V811M133.5 810.1V811M145.5 810V814.7M148.5 811.2V815.6M143.5 816.8V823.2M146.5 818V824.5M143.5 825.5V829.7M147.5 826.7V830.5M145.5 831.7V836.6M148.5 832.9V837.6M147.5 838.5V844.8M149.5 839.7V846.1M149.5 847.2V850.5M151.5 848.4V851.2M150.5 852.2V856.4M152.5 853.4V857.3M152.5 858.4V863.2M154.5 859.6V864.1M151.5 865.2V869M153.5 866.4V869M140.5 870V875.7M143.5 871.2V876.9M143.5 878.1V883.8M146.5 879.3V885M141.5 886.1V892.7M144.5 887.3V894M143.5 895.4V900.3M145.5 896.6V901.3M145.5 902.2V908.7M148.5 903.4V910M142.5 910.9V917.1M145.5 912.1V918.3M147.5 919.6V926.3M150.5 920.8V927.6M151.5 928.9V935.3M154.5 930.1V936.6M157.5 937.6V941.8M159.5 938.8V942.6M138.5 944V947.9M140.5 945.2V948.7M140.5 949.6V952.7M143.5 950.8V953.4M141.5 953.9V961M144.5 955.1V962.4M142.5 963.8V966.8M146.5 965V967.5M144.5 968.2V973.7M147.5 969.4V974.8M145.5 975.6V980.9M148.5 976.8V982M146.5 983.1V989M149.5 984.3V990.1M148.5 991.1V994.7M151.5 992.3V995.5M150.5 996.1V1002.1M152.5 997.3V1003.3M154.5 1004.1V1008M155.5 1005.3V1008.7M146.5 1009.7V1013.7M149.5 1010.9V1014.5M146.5 1015.3V1020.8M150.5 1016.5V1021.9M153.5 1022.7V1026.1M155.5 1023.9V1026.8M161.5 1027.7V1028M162.5 1028.9V1028M143.5 1028V1032.8M145.5 1029.2V1033.7M146.5 1034.8V1040M148.5 1036V1041.1M148.5 1042.3V1049M150.5 1043.5V1050.3M150.5 1051.6V1055.9M153.5 1052.8V1056.8M150.5 1057.8V1064.7M154.5 1059V1066.1M150.5 1067.1V1070.9M153.5 1068.3V1071.6M150.5 1072.6V1078.6M153.5 1073.8V1079.8M159.5 1080.7V1081M161.5 1081.9V1081"/>
<path stroke-width="1" d="M10.5 14V210M10 14.5H87M10 209.5H17M16.5 48V372M16 48.5H44M43.5 28V69M43 28.5H71M43 68.5H47M70.5 18V31M70 18.5H91M70 30.5H74M73.5 22V38M73 22.5H96M73 37.5H81M80.5 30V45M80 44.5H94M93.5 40V53M46.5 56V84M46 56.5H61M46 83.5H55M54.5 62V106M54 62.5H61M54 105.5H59M58.5 85V127M58 85.5H64M58 126.5H63M62.5 96V151M62 96.5H66M62 150.5H66M65.5 139V171M65 170.5H74M73.5 166V178M16 371.5H19M18.5 209V534M18 209.5H25M24.5 192V229M24 192.5H28M24 228.5H39M27.5 185V198M27 185.5H101M27 197.5H48M47.5 193V202M47 193.5H63M47 201.5H65M44.5 222V271M44 270.5H49M48.5 248V330M48 248.5H59M48 329.5H58M57.5 312V347M57 312.5H69M57 346.5H76M75.5 346V376M18 533.5H26M25.5 415V651M25 415.5H32M31.5 397V434M31 397.5H92M91.5 387V408M31 433.5H40M39.5 425V444M39 425.5H198M39 443.5H63M62.5 436V452M62 436.5H77M62 451.5H71M70.5 443V461M70 443.5H77M70 460.5H76M75.5 458V476M75 458.5H81M75 475.5H86M30.5 490V578M30 490.5H46M45.5 484V498M45 484.5H81M45 497.5H96M30 577.5H35M34.5 532V623M34 532.5H68M34 622.5H54M67.5 513V553M67 513.5H101M67 552.5H76M75.5 547V566M77.5 550V566M86.5 552V581M86 580.5H93M92.5 574V589M100.5 584V591M110.5 585V598M53.5 611V681M60.5 604V613M53 611.5H63M58.5 664V710M70.5 672V685M70 684.5H86M85.5 678V693M61.5 704V715M61 714.5H81M80.5 706V721M61 704.5H81M25 650.5H28M27.5 533V769M27 768.5H73M72.5 757V778M72 757.5H101M72 777.5H76M75.5 762V794M75 762.5H101M75 793.5H105M104.5 786V799M108.5 788V826M108 825.5H116M115.5 809V841M115 809.5H146M115 840.5H128M127.5 811V873M127 811.5H136M127 872.5H130M129.5 824V922M129 824.5H144M129 921.5H136M135.5 868V965M135 868.5H151M135 964.5H138M137.5 944V1022M137 944.5H151M139.5 872V911M139.5 1011V1033M137 1011.5H147M139 1032.5H143M142.5 1027V1043M145 1040L150 1078"/>
</g>
<g fill="none" stroke="#2f4af0" stroke-width="1.05">
<path d="M55.9 210H68.5M54.6 210.6H74M56.7 211.2H79.1M55.6 211.9H74.6M58 212.5H86.7M53.6 213.1H81.3M57 213.7H93.3M58 214.3H88.4M59.4 215H87.1M50 215.6H92.4M47.6 216.2H84.6M48.7 216.8H84.2M53.8 217.4H82.6M55.3 218.1H79.9M56.2 218.7H78.6M57 219.3H75.4M57.5 219.9H77.8M58 220.5H76.2M58.1 221.2H80M59.5 221.8H74.3M60.8 222.4H77.3M61.7 223H73.9M55 223.6H78.5M56 224.3H77.6M59.9 224.9H75.6M63.5 225.5H76.6M63.4 226.1H78M63.5 226.7H79.1M62.6 227.4H82.7M62.7 228H77.2M63.2 228.6H83.3M53.4 229.2H78.9M50.8 229.8H78.8M53.5 230.5H83.3M54.5 231.1H78.8M57.9 231.7H86.5M60.1 232.3H85.1M55.1 232.9H90.8M58.6 233.6H92.1M64.1 234.2H90.8M67.1 234.8H91.7M68.2 235.4H93.1M56.6 236H95.7M59.8 236.7H96.2M64.6 237.3H94.4M65.6 237.9H93.4M65.3 238.5H92M67.2 239.1H92.8M67.2 239.8H90.8M67.3 240.4H89.1M59.1 241H87.3M60.3 241.6H85.1M63.5 242.2H85.5M64 242.9H77.6M64.2 243.5H82.1M65.7 244.1H83.5M66.3 244.7H78.3M63.8 245.3H78M66.7 246H76M66 246.6H74.1"/>
<path stroke-width="1" d="M55.5 210V214.6M56.5 211.2V215.5M47.5 216.2V221.4M52.5 217.4V222.4M54.5 223.6V227.7M57.5 224.8V228.5M51.5 229.2V234.1M55.5 230.4V235.1M55.5 236V239.7M60.5 237.2V240.4M59.5 241V247M62.5 242.2V247"/>
<path stroke-width="1.1" d="M70 211.5H38.5V245.5H45"/>
</g>
<g fill="none" stroke="#2e41d4" stroke-width="1.5" stroke-linecap="square">
<path d="M300.5 36.28L396.75 36.28M396.75 18.89L396.75 53.68M396.75 18.89L414.75 18.89M414.75 10.73L414.75 27.06M414.75 10.73L424.5 10.73M424.5 7.1L424.5 14.36M424.5 7.1L468.75 7.1M424.5 14.36L457.5 14.36M414.75 27.06L434.75 27.06M434.75 21.61L434.75 32.5M434.75 21.61L456 21.61M434.75 32.5L455 32.5M455 28.87L455 36.13M455 28.87L457.5 28.87M455 36.13L457.5 36.13M396.75 53.68L406.5 53.68M406.5 43.38L406.5 63.97M406.5 43.38L452.5 43.38M406.5 63.97L441 63.97M441 54.27L441 73.66M441 54.27L482.5 54.27M482.5 50.64L482.5 57.9M482.5 50.64L492.5 50.64M482.5 57.9L497.5 57.9M441 73.66L465 73.66M465 65.16L465 82.16M465 65.16L572 65.16M465 82.16L486.25 82.16M486.25 72.41L486.25 91.92M486.25 72.41L523.75 72.41M486.25 91.92L500.75 91.92M500.75 83.3L500.75 100.53M500.75 83.3L507.5 83.3M507.5 79.67L507.5 86.93M507.5 79.67L530.5 79.67M507.5 86.93L558 86.93M500.75 100.53L507.5 100.53M507.5 94.18L507.5 106.88M507.5 94.18L528 94.18M507.5 106.88L511.25 106.88M511.25 101.44L511.25 112.33M511.25 101.44L518.75 101.44M511.25 112.33L540.5 112.33M540.5 108.7L540.5 115.95M540.5 108.7L544.5 108.7M540.5 115.95L600 115.95M328.5 379.67L349.75 379.67M349.75 179.07L349.75 580.27M349.75 179.07L355.5 179.07M355.5 134.1L355.5 224.04M355.5 134.1L366.5 134.1M366.5 126.84L366.5 141.35M366.5 126.84L414.25 126.84M414.25 123.21L414.25 130.47M414.25 123.21L494.5 123.21M414.25 130.47L504.5 130.47M366.5 141.35L399.75 141.35M399.75 137.73L399.75 144.98M399.75 137.73L463 137.73M399.75 144.98L459.5 144.98M355.5 224.04L363.5 224.04M363.5 162.13L363.5 285.94M363.5 162.13L433 162.13M433 152.24L433 172.03M433 152.24L647.75 152.24M433 172.03L458.75 172.03M458.75 159.5L458.75 184.56M458.75 159.5L661.5 159.5M458.75 184.56L482.4 184.56M482.4 170.38L482.4 198.73M482.4 170.38L529 170.38M529 166.75L529 174.01M529 166.75L550 166.75M529 174.01L540 174.01M482.4 198.73L489.7 198.73M489.7 186.71L489.7 210.75M489.7 186.71L510.1 186.71M510.1 181.27L510.1 192.15M510.1 181.27L533 181.27M510.1 192.15L514.8 192.15M514.8 188.52L514.8 195.78M514.8 188.52L540.5 188.52M514.8 195.78L521 195.78M489.7 210.75L496.4 210.75M496.4 203.04L496.4 218.46M496.4 203.04L533 203.04M496.4 210.3L496.4 226.62M496.4 210.3L533 210.3M496.4 226.62L507.6 226.62M507.6 217.55L507.6 235.7M507.6 217.55L512.7 217.55M507.6 228.44L507.6 242.95M507.6 228.44L514.6 228.44M514.6 224.81L514.6 232.07M514.6 224.81L547 224.81M514.6 232.07L547 232.07M507.6 242.95L517.4 242.95M517.4 239.32L517.4 246.58M517.4 239.32L540.5 239.32M517.4 246.58L518.4 246.58M363.5 285.94L421.75 285.94M421.75 259.28L421.75 312.6M421.75 259.28L486.25 259.28M486.25 253.84L486.25 264.72M486.25 253.84L522.5 253.84M486.25 264.72L542.5 264.72M542.5 261.09L542.5 268.35M542.5 261.09L548 261.09M542.5 268.35L566.25 268.35M421.75 312.6L435.25 312.6M435.25 275.61L435.25 349.59M435.25 275.61L511.25 275.61M435.25 349.59L440.5 349.59M440.5 300.1L440.5 399.08M440.5 300.1L463.1 300.1M463.1 286.49L463.1 313.71M463.1 286.49L476.25 286.49M476.25 282.87L476.25 290.12M476.25 282.87L487.5 282.87M476.25 290.12L498 290.12M463.1 313.71L471.5 313.71M471.5 302.82L471.5 324.59M471.5 302.82L476.25 302.82M476.25 297.38L476.25 308.27M476.25 297.38L504.5 297.38M476.25 308.27L486.25 308.27M486.25 304.64L486.25 311.89M486.25 304.64L501.25 304.64M486.25 311.89L519.5 311.89M471.5 324.59L487.1 324.59M487.1 319.15L487.1 330.04M487.1 319.15L502.5 319.15M487.1 330.04L492.5 330.04M492.5 326.41L492.5 333.67M492.5 326.41L514.5 326.41M492.5 333.67L508.75 333.67M440.5 399.08L459.75 399.08M459.75 354.95L459.75 443.2M459.75 354.95L467.4 354.95M467.4 344.55L467.4 365.36M467.4 344.55L497.7 344.55M497.7 340.92L497.7 348.18M497.7 340.92L537.5 340.92M497.7 348.18L543.75 348.18M467.4 365.36L478.6 365.36M478.6 355.44L478.6 375.28M478.6 355.44L519.5 355.44M478.6 375.28L492.8 375.28M492.8 366.32L492.8 384.24M492.8 366.32L502.1 366.32M502.1 362.69L502.1 369.95M502.1 362.69L566.25 362.69M502.1 369.95L532.5 369.95M492.8 384.24L494.9 384.24M494.9 377.21L494.9 391.27M494.9 377.21L525 377.21M494.9 391.27L499.8 391.27M499.8 384.46L499.8 398.07M499.8 384.46L519.5 384.46M499.8 398.07L500.9 398.07M500.9 391.72L500.9 404.42M500.9 391.72L544.5 391.72M500.9 404.42L512.6 404.42M512.6 398.98L512.6 409.86M512.6 398.98L532 398.98M512.6 409.86L516.5 409.86M516.5 406.24L516.5 413.49M516.5 406.24L543.25 406.24M516.5 413.49L534.5 413.49M459.75 443.2L461.2 443.2M461.2 427.1L461.2 459.3M461.2 427.1L469.7 427.1M469.7 420.75L469.7 433.45M469.7 420.75L498.25 420.75M469.7 433.45L494.3 433.45M494.3 428.01L494.3 438.89M494.3 428.01L501 428.01M494.3 438.89L496.5 438.89M496.5 435.26L496.5 442.52M496.5 435.26L508 435.26M496.5 442.52L515.75 442.52M461.2 459.3L476.1 459.3M476.1 449.78L476.1 468.83M476.1 449.78L504.5 449.78M476.1 468.83L478.7 468.83M478.7 457.03L478.7 480.62M478.7 457.03L505.5 457.03M478.7 480.62L480.2 480.62M480.2 469.73L480.2 491.5M480.2 469.73L488.2 469.73M488.2 464.29L488.2 475.18M488.2 464.29L523.25 464.29M488.2 475.18L492.4 475.18M492.4 471.55L492.4 478.81M492.4 471.55L505.75 471.55M492.4 478.81L514.5 478.81M480.2 491.5L484.6 491.5M484.6 486.06L484.6 496.95M484.6 486.06L510.75 486.06M484.6 496.95L504.1 496.95M504.1 493.32L504.1 500.58M504.1 493.32L525 493.32M504.1 500.58L520.5 500.58M349.75 580.27L355.25 580.27M355.25 516L355.25 644.55M355.25 516L362.25 516M362.25 507.83L362.25 524.16M362.25 507.83L544.5 507.83M362.25 524.16L425.5 524.16M425.5 515.09L425.5 533.23M425.5 515.09L496.25 515.09M425.5 533.23L449.75 533.23M449.75 525.98L449.75 540.49M449.75 525.98L456.1 525.98M456.1 522.35L456.1 529.6M456.1 522.35L529.5 522.35M456.1 529.6L540 529.6M449.75 540.49L491.25 540.49M491.25 536.86L491.25 544.12M491.25 536.86L528 536.86M491.25 544.12L524.5 544.12M355.25 644.55L380.25 644.55M380.25 556.82L380.25 732.28M380.25 556.82L410.5 556.82M410.5 551.38L410.5 562.26M410.5 551.38L482.4 551.38M410.5 562.26L508.75 562.26M508.75 558.63L508.75 565.89M508.75 558.63L525 558.63M508.75 565.89L518.75 565.89M380.25 732.28L389 732.28M389 599.41L389 865.15M389 599.41L410.5 599.41M410.5 573.15L410.5 625.67M410.5 573.15L548 573.15M410.5 625.67L469.9 625.67M469.9 589.93L469.9 661.42M469.9 589.93L480 589.93M480 580.4L480 599.45M480 580.4L507.5 580.4M480 599.45L498.75 599.45M498.75 591.29L498.75 607.62M498.75 591.29L514.25 591.29M514.25 587.66L514.25 594.92M514.25 587.66L550 587.66M514.25 594.92L561.25 594.92M498.75 607.62L506.25 607.62M506.25 602.17L506.25 613.06M506.25 602.17L532 602.17M506.25 613.06L513.75 613.06M513.75 609.43L513.75 616.69M513.75 609.43L530.75 609.43M513.75 616.69L525 616.69M469.9 661.42L485 661.42M485 631.09L485 691.75M485 631.09L493.25 631.09M493.25 623.95L493.25 638.23M493.25 623.95L530 623.95M493.25 638.23L502.5 638.23M502.5 631.2L502.5 645.26M502.5 631.2L555.5 631.2M502.5 645.26L506.25 645.26M506.25 638.46L506.25 652.07M506.25 638.46L534.5 638.46M506.25 652.07L511.25 652.07M511.25 645.72L511.25 658.42M511.25 645.72L536.25 645.72M511.25 658.42L517.5 658.42M517.5 652.97L517.5 663.86M517.5 652.97L559.5 652.97M517.5 663.86L533.25 663.86M533.25 660.23L533.25 667.49M533.25 660.23L542 660.23M533.25 667.49L541.25 667.49M485 691.75L506.25 691.75M506.25 680.19L506.25 703.32M506.25 680.19L521.75 680.19M521.75 674.74L521.75 685.63M521.75 674.74L545.5 674.74M521.75 685.63L539.5 685.63M539.5 682L539.5 689.26M539.5 682L552 682M539.5 689.26L550 689.26M506.25 703.32L513.75 703.32M513.75 696.51L513.75 710.12M513.75 696.51L562.5 696.51M513.75 710.12L530.5 710.12M530.5 703.77L530.5 716.47M530.5 703.77L563.75 703.77M530.5 716.47L549.25 716.47M549.25 711.03L549.25 721.91M549.25 711.03L565.75 711.03M549.25 721.91L568.75 721.91M568.75 718.29L568.75 725.54M568.75 718.29L582 718.29M568.75 725.54L575 725.54M389 865.15L399.25 865.15M399.25 776.94L399.25 953.36M399.25 776.94L406.5 776.94M406.5 745.05L406.5 808.83M406.5 745.05L435.5 745.05M435.5 732.8L435.5 757.29M435.5 732.8L607.6 732.8M435.5 757.29L485 757.29M485 743.69L485 770.9M485 743.69L592 743.69M592 740.06L592 747.31M592 740.06L659 740.06M592 747.31L643.5 747.31M485 770.9L516 770.9M516 760.01L516 781.78M516 760.01L588 760.01M588 754.57L588 765.46M588 754.57L616.1 754.57M588 765.46L603.9 765.46M603.9 761.83L603.9 769.09M603.9 761.83L605.25 761.83M603.9 769.09L612.25 769.09M516 781.78L540.5 781.78M540.5 776.34L540.5 787.23M540.5 776.34L679 776.34M540.5 787.23L600.75 787.23M600.75 783.6L600.75 790.86M600.75 783.6L633.5 783.6M600.75 790.86L621.5 790.86M406.5 808.83L414 808.83M414 798.11L414 819.54M414 798.11L507 798.11M414 819.54L451.1 819.54M451.1 805.37L451.1 833.72M451.1 805.37L542 805.37M451.1 833.72L474.9 833.72M474.9 818.98L474.9 848.46M474.9 818.98L486.25 818.98M486.25 812.63L486.25 825.33M486.25 812.63L588.75 812.63M486.25 825.33L503.75 825.33M503.75 819.88L503.75 830.77M503.75 819.88L575 819.88M503.75 830.77L517.5 830.77M517.5 827.14L517.5 834.4M517.5 827.14L568.75 827.14M517.5 834.4L586.25 834.4M474.9 848.46L515 848.46M515 841.65L515 855.26M515 841.65L578.75 841.65M515 855.26L531.75 855.26M531.75 848.91L531.75 861.61M531.75 848.91L564.5 848.91M531.75 861.61L533.75 861.61M533.75 856.17L533.75 867.05M533.75 856.17L570.5 856.17M533.75 867.05L541.25 867.05M541.25 863.43L541.25 870.68M541.25 863.43L557 863.43M541.25 870.68L568.75 870.68M399.25 953.36L426.8 953.36M426.8 904.42L426.8 1002.3M426.8 904.42L446 904.42M446 884.74L446 924.09M446 884.74L480.1 884.74M480.1 877.94L480.1 891.55M480.1 877.94L552 877.94M480.1 891.55L495 891.55M495 885.2L495 897.9M495 885.2L543.25 885.2M495 897.9L503.75 897.9M503.75 892.45L503.75 903.34M503.75 892.45L539.5 892.45M503.75 903.34L511.25 903.34M511.25 899.71L511.25 906.97M511.25 899.71L570 899.71M511.25 906.97L608.9 906.97M446 924.09L458.6 924.09M458.6 914.23L458.6 933.95M458.6 914.23L599.9 914.23M458.6 933.95L473.9 933.95M473.9 925.11L473.9 942.8M473.9 925.11L506.25 925.11M506.25 921.48L506.25 928.74M506.25 921.48L587.5 921.48M506.25 928.74L597.5 928.74M473.9 942.8L485 942.8M485 936L485 949.6M485 936L562.5 936M485 949.6L490 949.6M490 943.25L490 955.95M490 943.25L583.75 943.25M490 955.95L575 955.95M575 950.51L575 961.4M575 950.51L585 950.51M575 961.4L591.5 961.4M591.5 957.77L591.5 965.02M591.5 957.77L592.5 957.77M591.5 965.02L597.75 965.02M426.8 1002.3L449.5 1002.3M449.5 983.17L449.5 1021.44M449.5 983.17L457.3 983.17M457.3 975.91L457.3 990.42M457.3 975.91L500.3 975.91M500.3 972.28L500.3 979.54M500.3 972.28L511.4 972.28M500.3 979.54L514.8 979.54M457.3 990.42L488.7 990.42M488.7 986.79L488.7 994.05M488.7 986.79L506.4 986.79M488.7 994.05L511 994.05M449.5 1021.44L455.8 1021.44M455.8 1004.94L455.8 1037.93M455.8 1004.94L486.3 1004.94M486.3 1001.31L486.3 1008.57M486.3 1001.31L535.4 1001.31M486.3 1008.57L529.1 1008.57M455.8 1037.93L462.2 1037.93M462.2 1021.27L462.2 1054.6M462.2 1021.27L469.9 1021.27M469.9 1015.82L469.9 1026.71M469.9 1015.82L517.5 1015.82M469.9 1026.71L479.9 1026.71M479.9 1023.08L479.9 1030.34M479.9 1023.08L528.25 1023.08M479.9 1030.34L508.8 1030.34M462.2 1054.6L464.5 1054.6M464.5 1043.04L464.5 1066.17M464.5 1043.04L507.6 1043.04M507.6 1037.59L507.6 1048.48M507.6 1037.59L550.5 1037.59M507.6 1048.48L567.5 1048.48M567.5 1044.85L567.5 1052.11M567.5 1044.85L567.8 1044.85M567.5 1052.11L567.8 1052.11M464.5 1066.17L470.6 1066.17M470.6 1059.36L470.6 1072.97M470.6 1059.36L532.5 1059.36M470.6 1072.97L474.9 1072.97M474.9 1066.62L474.9 1079.32M474.9 1066.62L516.25 1066.62M474.9 1079.32L483.6 1079.32M483.6 1073.88L483.6 1084.76M483.6 1073.88L518 1073.88M483.6 1084.76L497.8 1084.76M497.8 1081.14L497.8 1088.39M497.8 1081.14L531.25 1081.14M497.8 1088.39L527.5 1088.39M300.5 36.28L300.5 614.5M300.5 614.5L328.5 614.5M328.5 379.67L328.5 972M278.2 324.6L300.5 324.6"/>
<path stroke-linecap="butt" stroke-width="1.6" d="M306.5 950L328.6 972.3L350.5 950"/>
</g>
<g class="sp">
<text x="472.5" y="9.7">Typhlosaurus braini</text>
<text x="461" y="16.97">Typhlosaurus meyeri</text>
<text x="460" y="24.25">Typhlosaurus caecus</text>
<text x="461" y="31.52">Typhlosaurus vermis</text>
<text x="460.5" y="38.79">Typhlosaurus lomiae</text>
<text x="455.5" y="46.06">Acontias gariepensis</text>
<text x="496" y="53.34">Acontias lineatus</text>
<text x="501" y="60.61">Acontias litoralis</text>
<text x="575.5" y="67.88">Acontias kgalagadi</text>
<text x="527.5" y="75.16">Acontias meleagris</text>
<text x="533.75" y="82.43">Acontias percivali</text>
<text x="561" y="89.7">Acontias rieppeli</text>
<text x="531" y="96.97">Acontias breviceps</text>
<text x="522.5" y="104.25">Acontias gracilicauda</text>
<text x="547.5" y="111.52">Acontias plumbeus</text>
<text x="603" y="118.79">Acontias poecilus</text>
<text x="498" y="126.06">Mesoscincus schwartzei</text>
<text x="508" y="133.34">Mesoscincus managuae</text>
<text x="466.75" y="140.61">Ophiomorus punctatissimus</text>
<text x="463" y="147.88">Ophiomorus latastii</text>
<text x="651" y="155.16">Brachymeles apus</text>
<text x="664.75" y="162.43">Brachymeles miriamae</text>
<text x="553.75" y="169.7">Brachymeles tridactylus</text>
<text x="543.75" y="176.97">Brachymeles bonitae</text>
<text x="536" y="184.25">Brachymeles minimus</text>
<text x="543.75" y="191.52">Brachymeles cebuensis</text>
<text x="524.5" y="198.79">Brachymeles samarensis</text>
<text x="536" y="206.07">Brachymeles talinis</text>
<text x="536" y="213.34">Brachymeles elerae</text>
<text x="515.75" y="220.61">Brachymeles schadenbergi</text>
<text x="550" y="227.88">Brachymeles boulengeri</text>
<text x="550" y="235.16">Brachymeles bicolor</text>
<text x="543.75" y="242.43">Brachymeles gracilis</text>
<text x="521" y="249.7">Brachymeles pathfinderi</text>
<text x="525.75" y="256.98">Plestiodon tamdaoensis</text>
<text x="551.25" y="264.25">Plestiodon kishinouyei</text>
<text x="569.25" y="271.52">Plestiodon chinensis</text>
<text x="515" y="278.79">Plestiodon quadrilineatus</text>
<text x="490.75" y="286.07">Plestiodon tunganus</text>
<text x="501.25" y="293.34">Plestiodon capito</text>
<text x="507.5" y="300.61">Plestiodon barbouri</text>
<text x="504.5" y="307.88">Plestiodon japonicus</text>
<text x="522.5" y="315.16">Plestiodon latiscutatus</text>
<text x="505.75" y="322.43">Plestiodon elegans</text>
<text x="517.5" y="329.7">Plestiodon marginatus</text>
<text x="512" y="336.98">Plestiodon stimpsonii</text>
<text x="540" y="344.25">Plestiodon reynoldsi</text>
<text x="546.75" y="351.52">Plestiodon egregius</text>
<text x="522.5" y="358.79">Plestiodon anthracinus</text>
<text x="569.25" y="366.07">Plestiodon inexpectatus</text>
<text x="535.5" y="373.34">Plestiodon laticeps</text>
<text x="528" y="380.61">Plestiodon tetragrammus</text>
<text x="522.5" y="387.89">Plestiodon callicephalus</text>
<text x="547.5" y="395.16">Plestiodon obsoletus</text>
<text x="535" y="402.43">Plestiodon fasciatus</text>
<text x="546.25" y="409.7">Plestiodon multivirgatus</text>
<text x="537.5" y="416.98">Plestiodon septentrionalis</text>
<text x="501.25" y="424.25">Plestiodon longirostris</text>
<text x="504.5" y="431.52">Plestiodon gilberti</text>
<text x="511.25" y="438.8">Plestiodon lagunensis</text>
<text x="518.75" y="446.07">Plestiodon skiltonianus</text>
<text x="507.5" y="453.34">Plestiodon parviauriculatus</text>
<text x="508.75" y="460.61">Plestiodon sumichrasti</text>
<text x="526.25" y="467.89">Plestiodon lynxe</text>
<text x="508.75" y="475.16">Plestiodon ochoterenae</text>
<text x="517.5" y="482.43">Plestiodon parvulus</text>
<text x="513.75" y="489.7">Plestiodon copei</text>
<text x="528" y="496.98">Plestiodon brevirostris</text>
<text x="523.75" y="504.25">Plestiodon dugesii</text>
<text x="547.5" y="511.52">Eurylepis taeniolatus</text>
<text x="499.5" y="518.8">Eumeces schneideri</text>
<text x="532.5" y="526.07">Scincopus fasciatus</text>
<text x="543" y="533.34">Eumeces algeriensis</text>
<text x="531.25" y="540.61">Scincus scincus</text>
<text x="527.5" y="547.89">Scincus mitranus</text>
<text x="485.75" y="555.16">Pamelaescincus gardineri</text>
<text x="528" y="562.43">Janetaescincus veseyfitzgeraldi</text>
<text x="522" y="569.71">Janetaescincus braueri</text>
<text x="551.25" y="576.98">Gongylomorphus bojerii</text>
<text x="510.75" y="584.25">Chalcides mauritanicus</text>
<text x="553.75" y="591.52">Chalcides minutus</text>
<text x="564.25" y="598.8">Chalcides guentheri</text>
<text x="535" y="606.07">Chalcides chalcides</text>
<text x="533.75" y="613.34">Chalcides pseudostriatus</text>
<text x="528" y="620.62">Chalcides striatus</text>
<text x="533.75" y="627.89">Chalcides ocellatus</text>
<text x="558.75" y="635.16">Chalcides sepsoides</text>
<text x="537.5" y="642.43">Chalcides colosii</text>
<text x="539.25" y="649.71">Chalcides bedriagai</text>
<text x="562.5" y="656.98">Chalcides boulengeri</text>
<text x="545" y="664.25">Chalcides parallelus</text>
<text x="544.5" y="671.52">Chalcides lanzai</text>
<text x="548.75" y="678.8">Chalcides sexlineatus</text>
<text x="555" y="686.07">Chalcides coeruleopunctatus</text>
<text x="553.75" y="693.34">Chalcides viridanus</text>
<text x="565" y="700.62">Chalcides sphenopsiformis</text>
<text x="566.75" y="707.89">Chalcides mionecton</text>
<text x="568.75" y="715.16">Chalcides manueli</text>
<text x="585" y="722.43">Chalcides polylepis</text>
<text x="577.5" y="729.71">Chalcides montanus</text>
<text x="610.75" y="736.98">Sepsina angolensis</text>
<text x="662.75" y="744.25">Typhlacontias brevipes</text>
<text x="647.25" y="751.53">Typhlacontias punctatissimus</text>
<text x="619.4" y="758.8">Feylinia grandisquamis</text>
<text x="607" y="766.07">Feylinia polylepis</text>
<text x="615.5" y="773.34">Feylinia currori</text>
<text x="682.75" y="780.62">Melanoseps occidentalis</text>
<text x="637" y="787.89">Melanoseps ater</text>
<text x="624.5" y="795.16">Melanoseps loveridgei</text>
<text x="510.75" y="802.44">Hakaria simonyi</text>
<text x="545" y="809.71">Proscelotes eggeli</text>
<text x="591.9" y="816.98">Scelotes caffer</text>
<text x="578.25" y="824.25">Scelotes anguineus</text>
<text x="571.75" y="831.53">Scelotes mirus</text>
<text x="589.25" y="838.8">Scelotes arenicolus</text>
<text x="581.75" y="846.07">Scelotes bipes</text>
<text x="567.5" y="853.34">Scelotes sexlineatus</text>
<text x="573.75" y="860.62">Scelotes gronovii</text>
<text x="560" y="867.89">Scelotes montispectus</text>
<text x="571.75" y="875.16">Scelotes kasneri</text>
<text x="555" y="882.44">Paracontias holomelas</text>
<text x="546.25" y="889.71">Paracontias brocchii</text>
<text x="542.5" y="896.98">Paracontias manify</text>
<text x="573" y="904.25">Paracontias hildebrandti</text>
<text x="612" y="911.53">Paracontias rothschildi</text>
<text x="603.1" y="918.8">Madascincus melanopleura</text>
<text x="590.75" y="926.07">Pseudoacontias menamainty</text>
<text x="600.5" y="933.35">Madascincus igneocaudatus</text>
<text x="565" y="940.62">Madascincus mouroundavae</text>
<text x="586.75" y="947.89">Madascincus nanus</text>
<text x="588" y="955.16">Madascincus stumpffi</text>
<text x="594.5" y="962.44">Madascincus polleni</text>
<text x="600.75" y="969.71">Madascincus intermedius</text>
<text x="514.5" y="976.98">Amphiglossus melanurus</text>
<text x="518.5" y="984.26">Amphiglossus ornaticeps</text>
<text x="509.5" y="991.53">Amphiglossus mandokava</text>
<text x="514.5" y="998.8">Amphiglossus tanysoma</text>
<text x="539" y="1006.07">Pygomeles braconnieri</text>
<text x="532.5" y="1013.35">Androngo trivittatus</text>
<text x="521" y="1020.62">Amphiglossus tsaratananensis</text>
<text x="532.2" y="1027.89">Amphiglossus reticulatus</text>
<text x="512.5" y="1035.16">Amphiglossus astrolabi</text>
<text x="554.5" y="1042.44">Voeltzkowia fierinensis</text>
<text x="570.75" y="1049.71">Voeltzkowia lineata</text>
<text x="570.75" y="1056.98">Voeltzkowia rubrocaudata</text>
<text x="536.25" y="1064.26">Amphiglossus splendidus</text>
<text x="520.75" y="1071.53">Amphiglossus anosyensis</text>
<text x="521.75" y="1078.8">Amphiglossus macrocercus</text>
<text x="534.5" y="1086.07">Amphiglossus punctatus</text>
<text x="530.75" y="1093.35">Amphiglossus frontoparietalis</text>
</g>
<g class="su">
<text x="394" y="44.25">100</text>
<text x="413" y="27">95</text>
<text x="422.25" y="9.5">89</text>
<text x="431.5" y="36.25">99</text>
<text x="452.25" y="40.75">100</text>
<text x="437.5" y="73">96</text>
<text x="479.75" y="62.5">100</text>
<text x="462" y="82.5">94</text>
<text x="483.5" y="90">98</text>
<text x="498" y="100">98</text>
<text x="505.5" y="109.25">92</text>
<text x="538" y="119.5">100</text>
<text x="345.7" y="375.5">97</text>
<text x="363.5" y="131.25">91</text>
<text x="413" y="125.75">98</text>
<text x="397.25" y="149.25">99</text>
<text x="375.5" y="227.5">85</text>
<text x="431" y="170">100</text>
<text x="456" y="181.75">94</text>
<text x="479.6" y="193.8">95</text>
<text x="526.7" y="167.9">99</text>
<text x="486.8" y="208.4">83</text>
<text x="507.6" y="184.2">94</text>
<text x="494.2" y="218.3">88</text>
<text x="504.4" y="235.4">85</text>
<text x="525.4" y="231.6">73</text>
<text x="515.6" y="251.1">85</text>
<text x="419" y="294.25">100</text>
<text x="483.75" y="268.5">100</text>
<text x="540" y="263.75">100</text>
<text x="433" y="320.5">70</text>
<text x="438" y="358.75">88</text>
<text x="461" y="298.25">100</text>
<text x="474.75" y="285">98</text>
<text x="468.5" y="323">93</text>
<text x="474.75" y="300.5">86</text>
<text x="483.5" y="317">97</text>
<text x="485.25" y="333.25">100</text>
<text x="456.75" y="408.75">100</text>
<text x="465.2" y="353.9">97</text>
<text x="495.1" y="351.4">100</text>
<text x="474.7" y="373.7">56</text>
<text x="490" y="383.9">100</text>
<text x="500.9" y="365.6">74</text>
<text x="492.8" y="392.5">74</text>
<text x="496.4" y="399.4">76</text>
<text x="499" y="406.8">71</text>
<text x="510.2" y="412.8">98</text>
<text x="527" y="414">86</text>
<text x="481.6" y="430.5">92</text>
<text x="491" y="443">100</text>
<text x="471.9" y="466.6">100</text>
<text x="476.1" y="477">73</text>
<text x="478.7" y="488.5">76</text>
<text x="487.8" y="469.1">91</text>
<text x="502.2" y="479.1">73</text>
<text x="502.2" y="504.2">98</text>
<text x="353" y="588">81</text>
<text x="423" y="533">100</text>
<text x="447.5" y="541.25">100</text>
<text x="454.75" y="524.5">77</text>
<text x="488" y="539.25">100</text>
<text x="378" y="652.5">100</text>
<text x="407.75" y="555.5">99</text>
<text x="507" y="570">100</text>
<text x="385.5" y="742">97</text>
<text x="408.5" y="597">57</text>
<text x="466.5" y="633.75">100</text>
<text x="478" y="587.5">55</text>
<text x="496.25" y="608.5">100</text>
<text x="511.75" y="590.5">92</text>
<text x="502" y="615.5">86</text>
<text x="512" y="620.5">75</text>
<text x="482.25" y="670">88</text>
<text x="492" y="629.25">74</text>
<text x="500.75" y="646">91</text>
<text x="505" y="653">74</text>
<text x="515" y="666.25">87</text>
<text x="530.75" y="672.5">99</text>
<text x="504.5" y="700.75">100</text>
<text x="519.25" y="678.75">98</text>
<text x="537.5" y="683.25">99</text>
<text x="528.25" y="717.5">94</text>
<text x="547" y="724.25">95</text>
<text x="566.75" y="730.5">96</text>
<text x="396" y="874.25">92</text>
<text x="404.75" y="775">93</text>
<text x="432.75" y="743">97</text>
<text x="481.25" y="755.5">100</text>
<text x="589.5" y="741.75">100</text>
<text x="513.25" y="768.75">96</text>
<text x="585.75" y="758.75">100</text>
<text x="600.75" y="773.25">98</text>
<text x="538" y="780.75">96</text>
<text x="598.25" y="785.75">100</text>
<text x="447.75" y="827.5">100</text>
<text x="471.75" y="841.25">99</text>
<text x="484" y="818">80</text>
<text x="501.25" y="824.25">89</text>
<text x="515" y="839.25">87</text>
<text x="513" y="856.25">100</text>
<text x="529.5" y="853">97</text>
<text x="532" y="869.25">75</text>
<text x="540.5" y="875.5">94</text>
<text x="424" y="961.75">100</text>
<text x="443.5" y="902">100</text>
<text x="477.4" y="882.5">100</text>
<text x="492" y="899.75">60</text>
<text x="500.75" y="905.5">69</text>
<text x="456" y="932">52</text>
<text x="469.5" y="943.25">97</text>
<text x="502.5" y="923.75">89</text>
<text x="483.75" y="950.75">64</text>
<text x="571.75" y="953.75">100</text>
<text x="588.25" y="969.25">87</text>
<text x="446.6" y="1011.2">100</text>
<text x="455" y="982.2">90</text>
<text x="497.8" y="974.5">100</text>
<text x="486.4" y="989.5">100</text>
<text x="453.5" y="1029.5">85</text>
<text x="483.3" y="1004">100</text>
<text x="459.3" y="1046.4">93</text>
<text x="468" y="1021.1">93</text>
<text x="478.3" y="1034.6">86</text>
<text x="462.7" y="1062.9">24</text>
<text x="505.2" y="1051.3">100</text>
<text x="563.75" y="1057.5">95</text>
<text x="468.8" y="1075.4">80</text>
<text x="471.8" y="1083">70</text>
<text x="481.8" y="1088.1">90</text>
<text x="495.5" y="1092.7">96</text>
<text x="296.8" y="334">100</text>
<text x="326.5" y="623">94</text>
</g>
<text class="big" x="316" y="34.2">Acontiinae</text>
<text class="big" x="355.6" y="385.2">Scincinae</text>
<text class="fam" x="219.3" y="317.5">Scincidae</text>
<text class="fi" x="316.8" y="990.8">F-I</text>
<text class="e" x="21.5" y="1073">E</text>
</svg>
</body></html>
